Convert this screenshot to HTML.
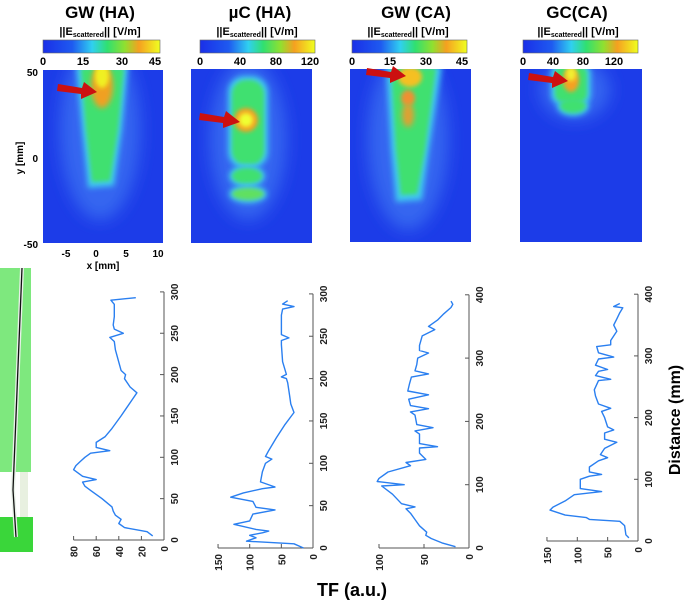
<!DOCTYPE html>
<html><head><meta charset="utf-8">
<style>
html,body{margin:0;padding:0;background:#fff;}
svg{display:block;font-family:"Liberation Sans",sans-serif;}
.t{font-weight:bold;}
</style></head>
<body>
<svg id="fig" width="685" height="601" viewBox="0 0 685 601">
<defs>
<linearGradient id="jet" x1="0" x2="1" y1="0" y2="0">
<stop offset="0" stop-color="#1a2fe8"/><stop offset="0.25" stop-color="#1e5af0"/>
<stop offset="0.42" stop-color="#30d0f0"/><stop offset="0.55" stop-color="#30e070"/>
<stop offset="0.7" stop-color="#90e030"/><stop offset="0.82" stop-color="#f5a020"/>
<stop offset="1" stop-color="#f0ff20"/></linearGradient>
<filter id="b2" x="-50%" y="-50%" width="200%" height="200%"><feGaussianBlur stdDeviation="2"/></filter>
<filter id="b3" x="-50%" y="-50%" width="200%" height="200%"><feGaussianBlur stdDeviation="3"/></filter>
<filter id="b8" x="-50%" y="-50%" width="200%" height="200%"><feGaussianBlur stdDeviation="8"/></filter>
<clipPath id="c1"><rect x="43" y="70" width="120" height="173"/></clipPath>
<clipPath id="c2"><rect x="191" y="69" width="121" height="174"/></clipPath>
<clipPath id="c3"><rect x="350" y="69" width="121" height="173"/></clipPath>
<clipPath id="c4"><rect x="520" y="69" width="122" height="173"/></clipPath>
</defs>

<g class="t" font-size="17" text-anchor="middle">
<text x="100" y="18">GW (HA)</text>
<text x="260" y="18">µC (HA)</text>
<text x="416" y="18">GW (CA)</text>
<text x="577" y="18">GC(CA)</text>
</g>

<g font-size="11" class="t">
<g>
<text x="100" y="35" text-anchor="middle">||E<tspan font-size="7" dy="2">scattered</tspan><tspan dy="-2">|| [V/m]</tspan></text>
<rect x="43" y="40" width="117" height="13" fill="url(#jet)" stroke="#666" stroke-width="0.6"/>
<text x="43" y="65" text-anchor="middle">0</text><text x="83" y="65" text-anchor="middle">15</text><text x="122" y="65" text-anchor="middle">30</text><text x="155" y="65" text-anchor="middle">45</text>
</g>
<g>
<text x="257" y="35" text-anchor="middle">||E<tspan font-size="7" dy="2">scattered</tspan><tspan dy="-2">|| [V/m]</tspan></text>
<rect x="200" y="40" width="115" height="13" fill="url(#jet)" stroke="#666" stroke-width="0.6"/>
<text x="200" y="65" text-anchor="middle">0</text><text x="240" y="65" text-anchor="middle">40</text><text x="276" y="65" text-anchor="middle">80</text><text x="310" y="65" text-anchor="middle">120</text>
</g>
<g>
<text x="408" y="35" text-anchor="middle">||E<tspan font-size="7" dy="2">scattered</tspan><tspan dy="-2">|| [V/m]</tspan></text>
<rect x="352" y="40" width="115" height="13" fill="url(#jet)" stroke="#666" stroke-width="0.6"/>
<text x="352" y="65" text-anchor="middle">0</text><text x="390" y="65" text-anchor="middle">15</text><text x="426" y="65" text-anchor="middle">30</text><text x="462" y="65" text-anchor="middle">45</text>
</g>
<g>
<text x="578" y="35" text-anchor="middle">||E<tspan font-size="7" dy="2">scattered</tspan><tspan dy="-2">|| [V/m]</tspan></text>
<rect x="523" y="40" width="115" height="13" fill="url(#jet)" stroke="#666" stroke-width="0.6"/>
<text x="523" y="65" text-anchor="middle">0</text><text x="553" y="65" text-anchor="middle">40</text><text x="583" y="65" text-anchor="middle">80</text><text x="614" y="65" text-anchor="middle">120</text>
</g>
</g>

<g clip-path="url(#c1)">
<rect x="43" y="70" width="120" height="173" fill="#1c3ce8"/>
<ellipse cx="100" cy="130" rx="40" ry="90" fill="#3466f0" filter="url(#b8)"/>
<path d="M76 66 L128 66 L122 130 L114 186 L88 188 L82 130 Z" fill="#40c8f0" filter="url(#b3)"/>
<path d="M81 68 L124 68 L118 130 L110 181 L92 182 L86 130 Z" fill="#40e070" filter="url(#b2)"/>
<ellipse cx="102" cy="86" rx="11" ry="22" fill="#f0a020" filter="url(#b3)"/>
<ellipse cx="102" cy="76" rx="7" ry="12" fill="#f0f020" filter="url(#b2)"/>
</g>
<g clip-path="url(#c2)">
<rect x="191" y="69" width="121" height="174" fill="#1c3ce8"/>
<ellipse cx="248" cy="140" rx="38" ry="80" fill="#3466f0" filter="url(#b8)"/>
<rect x="228" y="76" width="40" height="92" rx="16" fill="#40c8f0" filter="url(#b3)"/>
<rect x="232" y="80" width="32" height="85" rx="14" fill="#40e070" filter="url(#b2)"/>
<ellipse cx="247" cy="176" rx="18" ry="11" fill="#40c8f0" filter="url(#b3)"/>
<ellipse cx="247" cy="176" rx="15" ry="8" fill="#40e070" filter="url(#b2)"/>
<ellipse cx="248" cy="194" rx="19" ry="9" fill="#40c8f0" filter="url(#b3)"/>
<ellipse cx="248" cy="194" rx="16" ry="6" fill="#60e060" filter="url(#b2)"/>
<circle cx="246" cy="120" r="12" fill="#f5a020" filter="url(#b2)"/>
<circle cx="246" cy="120" r="7" fill="#f0ff30" filter="url(#b2)"/>
</g>
<g clip-path="url(#c3)">
<rect x="350" y="69" width="121" height="173" fill="#1c3ce8"/>
<ellipse cx="408" cy="140" rx="40" ry="90" fill="#3466f0" filter="url(#b8)"/>
<path d="M386 66 L442 66 L429 150 L422 200 L396 202 L391 150 Z" fill="#40c8f0" filter="url(#b3)"/>
<path d="M391 68 L436 68 L425 150 L417 194 L401 195 L396 150 Z" fill="#40e070" filter="url(#b2)"/>
<ellipse cx="408" cy="98" rx="7" ry="8" fill="#f09030" filter="url(#b2)"/>
<ellipse cx="408" cy="115" rx="6" ry="12" fill="#e0a030" filter="url(#b3)"/>
<ellipse cx="410" cy="77" rx="12" ry="10" fill="#f5c020" filter="url(#b2)"/>
</g>
<g clip-path="url(#c4)">
<rect x="520" y="69" width="122" height="173" fill="#1c3ce8"/>
<ellipse cx="575" cy="90" rx="35" ry="30" fill="#3466f0" filter="url(#b8)"/>
<rect x="551" y="64" width="40" height="40" rx="9" fill="#40c8f0" filter="url(#b3)"/>
<ellipse cx="573" cy="106" rx="16" ry="10" fill="#40c8f0" filter="url(#b3)"/>
<rect x="555" y="66" width="32" height="36" rx="8" fill="#40e070" filter="url(#b2)"/>
<ellipse cx="573" cy="106" rx="13" ry="7" fill="#40e070" filter="url(#b2)"/>
<ellipse cx="571" cy="80" rx="8" ry="12" fill="#f5a020" filter="url(#b2)"/>
<ellipse cx="571" cy="74" rx="5" ry="7" fill="#f0f030" filter="url(#b2)"/>
</g>

<g fill="#cc1010">
<path d="M58 84 L82 88 L84 82 L97 92 L81 99 L81 94 L57 91 Z"/>
<path d="M200 113 L224 117 L226 111 L240 122 L223 128 L223 123 L199 120 Z"/>
<path d="M367 68 L391 72 L393 66 L406 76 L390 83 L390 78 L366 75 Z"/>
<path d="M529 73 L553 77 L555 71 L568 81 L552 88 L552 83 L528 80 Z"/>
</g>

<g font-size="10" class="t">
<text x="38" y="76" text-anchor="end">50</text>
<text x="38" y="162" text-anchor="end">0</text>
<text x="38" y="248" text-anchor="end">-50</text>
<text x="66" y="257" text-anchor="middle">-5</text><text x="96" y="257" text-anchor="middle">0</text>
<text x="126" y="257" text-anchor="middle">5</text><text x="158" y="257" text-anchor="middle">10</text>
<text x="103" y="269" text-anchor="middle">x [mm]</text>
<text transform="translate(23,158) rotate(-90)" text-anchor="middle">y [mm]</text>
</g>

<g>
<rect x="0" y="268" width="31" height="204" fill="#7ee87e"/>
<rect x="0" y="517" width="33" height="35" fill="#3ad63a"/>
<rect x="20" y="472" width="8" height="45" fill="#e8f0e0"/>
<polyline points="22,268 13,490 16,537" fill="none" stroke="#e8f0e8" stroke-width="4"/>
<polyline points="22,268 13,490 16,537" fill="none" stroke="#111" stroke-width="1.3"/>
</g>

<g id="plots"></g>

<text x="352" y="596" class="t" font-size="18" text-anchor="middle">TF (a.u.)</text>
<text transform="translate(680,420) rotate(-90)" class="t" font-size="16" text-anchor="middle">Distance (mm)</text>
</svg>
<script>
const dist1=[5,10,15,20,25,30,35,40,50,60,65,70,73,77,85,90,95,100,105,108,112,118,125,135,150,160,170,178,185,195,200,205,215,230,240,245,250,255,260,270,280,285,290,293];
const tf1=[10,15,35,40,38,43,45,46,55,65,70,72,60,72,80,78,74,70,65,48,60,60,52,46,38,33,28,24,30,35,34,38,40,43,44,48,36,44,45,44,44,44,47,25];
const dist2=[0,5,8,12,15,18,20,22,28,32,40,45,48,55,60,65,70,72,78,90,100,105,108,115,130,145,160,170,180,195,200,202,205,220,240,245,248,252,260,275,282,285,288,292];
const tf2=[15,30,105,90,100,80,70,90,125,100,95,60,90,95,130,110,80,60,83,80,75,65,75,70,58,45,30,35,37,40,42,50,42,48,50,50,38,50,50,50,48,30,48,40];
const dist3=[2,8,15,20,25,35,45,55,62,65,70,85,98,100,105,110,120,130,135,140,150,158,160,165,180,185,190,195,210,215,220,225,235,242,248,260,270,275,280,290,300,308,312,320,335,340,345,350,360,370,380,385,390];
const tf3=[15,30,42,48,47,55,60,65,70,60,75,85,97,72,102,100,90,65,70,48,55,55,35,55,55,60,40,58,60,65,45,65,67,45,68,66,64,45,60,58,57,45,55,55,52,45,38,45,35,28,20,18,20];
const dist4=[5,10,25,32,35,38,42,50,55,65,75,80,85,100,105,108,112,120,130,135,140,150,160,165,175,180,185,200,210,215,222,235,245,260,262,268,275,278,285,295,298,305,315,318,325,340,350,360,370,378,380,385];
const tf4=[15,20,22,30,80,85,120,145,140,120,105,60,95,95,80,60,80,80,65,50,62,55,35,55,55,40,50,55,60,45,65,70,72,65,45,70,65,50,70,65,40,65,68,45,45,35,40,35,30,25,40,30];
const tfTicks1=[0,20,40,60,80], tfTicks2=[0,50,100,150], tfTicks3=[0,50,100], tfTicks4=[0,50,100,150];
const dTicks1=[0,50,100,150,200,250,300], dTicks3=[0,100,200,300,400];

const NS="http://www.w3.org/2000/svg";
const root=document.getElementById('plots');
function mk(tag,attrs,parent){const e=document.createElementNS(NS,tag);for(const k in attrs)e.setAttribute(k,attrs[k]);parent.appendChild(e);return e;}
function plot(name,dist,tf,tfT,dT,tfMax,dMax,x0,xs,y0,ys){
  const g=mk('g',{},root);
  
  
  const X=v=>x0-v*xs, Y=d=>y0-d*ys;
  const axc='#555';
  mk('line',{x1:x0,y1:Y(0),x2:x0,y2:Y(dMax),stroke:axc,'stroke-width':1},g);
  mk('line',{x1:x0,y1:y0,x2:X(tfMax),y2:y0,stroke:axc,'stroke-width':1},g);
  dT.forEach(d=>{
    mk('line',{x1:x0,y1:Y(d),x2:x0-4,y2:Y(d),stroke:axc},g);
    const t=mk('text',{transform:`translate(${x0+14},${Y(d)}) rotate(-90)`,'text-anchor':'middle','font-size':10,'font-weight':'bold',fill:'#222'},g);
    t.textContent=d;
  });
  tfT.forEach(v=>{
    mk('line',{x1:X(v),y1:y0,x2:X(v),y2:y0-4,stroke:axc},g);
    const t=mk('text',{transform:`translate(${X(v)+4},${y0+6}) rotate(-90)`,'text-anchor':'end','font-size':10,'font-weight':'bold',fill:'#222'},g);
    t.textContent=v;
  });
  const pts=dist.map((d,i)=>X(tf[i]).toFixed(1)+','+Y(d).toFixed(1)).join(' ');
  const l=mk('polyline',{points:pts,fill:'none',stroke:'#2a7ff0','stroke-width':1.4,'stroke-linejoin':'round'},g);
  
  
}
plot('tf-plot-gw-ha',dist1,tf1,tfTicks1,dTicks1,80,300,164,1.13,540,0.827);
plot('tf-plot-uc-ha',dist2,tf2,tfTicks2,dTicks1,150,300,313,0.633,548,0.847);
plot('tf-plot-gw-ca',dist3,tf3,tfTicks3,dTicks3,100,400,469,0.9,548,0.633);
plot('tf-plot-gc-ca',dist4,tf4,tfTicks4,dTicks3,150,400,638,0.607,541,0.617);
</script>
</body></html>
